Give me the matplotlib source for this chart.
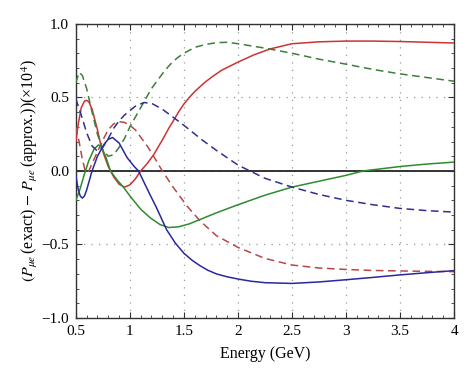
import matplotlib.pyplot as plt
from matplotlib.ticker import MultipleLocator, FixedLocator

plt.rcParams['font.family'] = ['Liberation Serif', 'DejaVu Serif']
plt.rcParams['mathtext.fontset'] = 'stix'

# values (energy in GeV, difference x 10^4)
red_E = [0.5, 0.52, 0.55, 0.58, 0.6, 0.62, 0.65, 0.7, 0.73, 0.76, 0.8, 0.85, 0.9, 0.95,
         1.0, 1.05, 1.1, 1.16, 1.22, 1.3, 1.36, 1.41, 1.45, 1.5, 1.55, 1.6, 1.69, 1.77,
         1.85, 2.0, 2.15, 2.3, 2.5, 2.75, 3.0, 3.25, 3.5, 3.75, 4.0]
red_v = [0.2, 0.31, 0.43, 0.475, 0.48, 0.47, 0.42, 0.28, 0.18, 0.11, 0.03, -0.04, -0.09, -0.11,
         -0.095, -0.055, 0.0, 0.05, 0.11, 0.21, 0.29, 0.35, 0.40, 0.455, 0.5, 0.54, 0.6, 0.645,
         0.685, 0.74, 0.79, 0.83, 0.865, 0.878, 0.883, 0.883, 0.88, 0.875, 0.87]

red_d_E = [0.5, 0.53, 0.56, 0.59, 0.62, 0.65, 0.7, 0.75, 0.8, 0.85, 0.9, 0.95, 1.0, 1.05,
           1.1, 1.16, 1.22, 1.3, 1.4, 1.53, 1.65, 1.8, 2.0, 2.25, 2.5, 2.75, 3.0, 3.25,
           3.5, 3.75, 4.0]
red_d_v = [0.3, 0.2, 0.08, -0.01, 0.0, 0.05, 0.13, 0.21, 0.28, 0.32, 0.335, 0.33, 0.31, 0.28,
           0.23, 0.17, 0.1, 0.0, -0.11, -0.24, -0.34, -0.44, -0.52, -0.595, -0.64, -0.66, -0.67, -0.677,
           -0.68, -0.683, -0.685]

green_E = [0.5, 0.54, 0.58, 0.62, 0.67, 0.71, 0.74, 0.78, 0.82, 0.88, 0.94, 1.0, 1.1, 1.19,
           1.28, 1.36, 1.45, 1.55, 1.65, 1.8, 2.0, 2.25, 2.5, 2.75, 3.0, 3.16, 3.5, 3.75, 4.0]
green_v = [-0.2, -0.12, -0.02, 0.07, 0.15, 0.177, 0.16, 0.09, 0.0, -0.06, -0.11, -0.17, -0.26, -0.32,
           -0.365, -0.385, -0.38, -0.36, -0.33, -0.285, -0.23, -0.165, -0.11, -0.07, -0.03, 0.0, 0.03, 0.047, 0.06]

green_d_E = [0.5, 0.53, 0.56, 0.6, 0.65, 0.7, 0.75, 0.8, 0.85, 0.9, 0.95, 1.0, 1.1, 1.2,
             1.3, 1.35, 1.4, 1.45, 1.5, 1.55, 1.6, 1.7, 1.8, 1.9, 2.0, 2.25, 2.5, 2.75,
             3.0, 3.25, 3.5, 3.75, 4.0]
green_d_v = [0.6, 0.67, 0.65, 0.56, 0.4, 0.25, 0.14, 0.1, 0.11, 0.16, 0.22, 0.3, 0.43, 0.56,
             0.66, 0.705, 0.745, 0.775, 0.8, 0.82, 0.84, 0.86, 0.872, 0.875, 0.865, 0.835, 0.8, 0.76,
             0.726, 0.69, 0.66, 0.635, 0.61]

blue_E = [0.5, 0.52, 0.54, 0.56, 0.58, 0.6, 0.65, 0.7, 0.76, 0.8, 0.84, 0.9, 0.975, 1.04,
          1.08, 1.1, 1.185, 1.24, 1.34, 1.42, 1.5, 1.58, 1.65, 1.72, 1.8, 1.9, 2.0, 2.12,
          2.25, 2.5, 2.75, 3.0, 3.25, 3.5, 3.75, 4.0]
blue_v = [-0.03, -0.12, -0.17, -0.185, -0.17, -0.13, 0.0, 0.1, 0.18, 0.215, 0.227, 0.19, 0.09, 0.03,
          0.0, -0.03, -0.16, -0.24, -0.40, -0.49, -0.56, -0.61, -0.645, -0.675, -0.70, -0.72, -0.735, -0.75,
          -0.76, -0.765, -0.755, -0.74, -0.724, -0.707, -0.692, -0.678]

blue_d_E = [0.5, 0.55, 0.6, 0.65, 0.7, 0.75, 0.8, 0.85, 0.9, 0.95, 1.0, 1.05, 1.13, 1.2,
            1.3, 1.41, 1.5, 1.67, 1.8, 2.0, 2.11, 2.25, 2.5, 2.75, 3.0, 3.25, 3.5, 3.75, 4.0]
blue_d_v = [0.49, 0.38, 0.26, 0.17, 0.135, 0.16, 0.22, 0.29, 0.34, 0.38, 0.41, 0.44, 0.465, 0.46,
            0.42, 0.36, 0.31, 0.21, 0.14, 0.04, 0.0, -0.05, -0.11, -0.16, -0.2, -0.23, -0.255, -0.27, -0.28]

fig = plt.figure(figsize=(4.74, 3.79), dpi=100)
ax = fig.add_axes([0.160, 0.161, 0.798, 0.776])

ax.grid(True, which='major', color='#999999', linestyle=(0, (1, 5)), linewidth=0.9)
ax.axhline(0, color='#333333', linewidth=1.4, zorder=2)

lw = 1.1
ax.plot(red_E, red_v, color='#cc3333', lw=lw, zorder=3)
ax.plot(red_d_E, red_d_v, color='#b84848', lw=lw, ls=(0, (5, 3)), zorder=3)
ax.plot(green_E, green_v, color='#2e8b2e', lw=lw, zorder=3)
ax.plot(green_d_E, green_d_v, color='#3d7d3d', lw=lw, ls=(0, (5, 3)), zorder=3)
ax.plot(blue_E, blue_v, color='#2828a0', lw=lw, zorder=3)
ax.plot(blue_d_E, blue_d_v, color='#30308f', lw=lw, ls=(0, (5, 3)), zorder=3)

ax.set_xlim(0.5, 4)
ax.set_ylim(-1, 1)
ax.xaxis.set_major_locator(FixedLocator([0.5, 1, 1.5, 2, 2.5, 3, 3.5, 4]))
ax.set_xticklabels(['0.5', '1', '1.5', '2', '2.5', '3', '3.5', '4'])
ax.xaxis.set_minor_locator(MultipleLocator(0.1))
ax.set_yticks([-1, -0.5, 0, 0.5, 1])
ax.set_yticklabels(['\u22121.0', '\u22120.5', '0.0', '0.5', '1.0'])
ax.yaxis.set_minor_locator(MultipleLocator(0.1))
ax.tick_params(which='both', direction='in', top=True, right=True, labelsize=11, color='#333333')
ax.tick_params(which='major', length=4, pad=5)
ax.tick_params(which='minor', length=2)
for s in ax.spines.values():
    s.set_color('#333333')
    s.set_linewidth(1.0)

ax.set_xlabel('Energy (GeV)', fontsize=11.5, labelpad=6)
ax.set_ylabel(r'$(P_{\mu e}\,$(exact) $-\ P_{\mu e}\,$(approx.))(×10$^4$)', fontsize=11.5, labelpad=1)

fig.savefig('out.png', dpi=100)
